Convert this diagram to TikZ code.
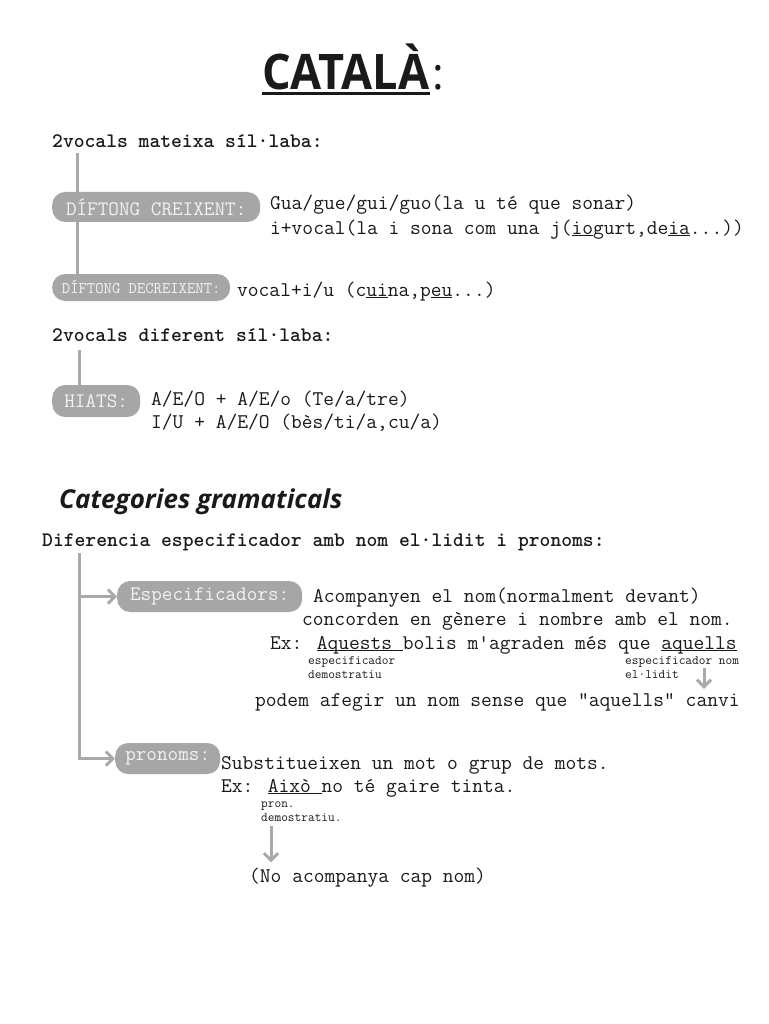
\documentclass[tikz,border=0pt]{standalone}
\usepackage{fontspec}
\newfontfamily\ttbold{lmmonolt10-bold.otf}
\newfontfamily\titlefont{Open Sans}[FakeStretch=0.92]
\newfontfamily\catfont{Open Sans}
\usetikzlibrary{arrows.meta}
\definecolor{ink}{HTML}{1A1A1A}
\definecolor{pillgray}{HTML}{A6A6A6}
\definecolor{pilltext}{HTML}{F2F2F2}
\definecolor{linegray}{HTML}{A9A9A9}
\newcommand\ulword[1]{\underline{\smash{#1}}}

\begin{document}
\begin{tikzpicture}[x=1pt,y=-1pt,
    txt/.style={anchor=base west,inner sep=0pt,text=ink,font=\ttfamily\fontsize{20.9}{24}\selectfont},
    head/.style={txt,font=\ttbold\fontsize{20.6}{24}\selectfont},
    small/.style={txt,font=\ttfamily\fontsize{13}{15}\selectfont},
    pill/.style={anchor=west,fill=pillgray,text=pilltext,rounded corners=13pt,inner sep=0pt,font=\ttfamily\fontsize{20.6}{24}\selectfont},
    trunk/.style={draw=linegray,line width=3pt},
    arrow/.style={trunk,-{Straight Barb[length=7pt,width=14pt]}}]

    \fill[white] (0,0) rectangle (768,1024);

    % Title
    \node[anchor=base west,inner sep=0pt,text=ink,font=\titlefont\bfseries\fontsize{49}{55}\selectfont] (title) at (262,90) {CATALÀ};
    \draw[ink,line width=3.5pt] ([yshift=-3pt]title.south west) -- ([yshift=-3pt]title.south east);
    \node[anchor=base west,inner sep=0pt,text=ink,font=\catfont\fontsize{44}{50}\selectfont] (colon) at ([xshift=3pt]title.base east) {:};

    % Step 1: same syllable
    \node[head] (h1) at (52,148) {2vocals mateixa síl·laba:};
    \node[pill,minimum width=208,minimum height=30] (p1) at (52,207) {DÍFTONG CREIXENT:};
    \node[txt] (gua) at (270,210) {Gua/gue/gui/guo(la u té que sonar)};
    \node[txt] (ivoc) at (270,234) {i+vocal(la i sona com una j(\ulword{io}gurt,de\ulword{ia}...))};
    \node[pill,minimum width=178,minimum height=27,font=\ttfamily\fontsize{16.2}{19}\selectfont] (p2) at (52,287.5) {DÍFTONG DECREIXENT:};
    \node[txt] (vocu) at (237,296) {vocal+i/u (c\ulword{ui}na,p\ulword{eu}...)};

    \coordinate (t1) at ([xshift=25pt,yshift=-5pt]h1.base west);
    \draw[trunk] (t1) -- (t1 |- p1.north);
    \draw[trunk] (t1 |- p1.south) -- (t1 |- p2.north);

    % Step 2: different syllable
    \node[head] (h2) at (52,341) {2vocals diferent síl·laba:};
    \node[pill,minimum width=88,minimum height=32] (p3) at (52,401) {HIATS:};
    \node[txt] (aeo) at (151,405) {A/E/O + A/E/o (Te/a/tre)};
    \node[txt] (iu) at (151,428) {I/U + A/E/O (bès/ti/a,cu/a)};

    \coordinate (t2) at ([xshift=27pt,yshift=-9pt]h2.base west);
    \draw[trunk] (t2) -- (t2 |- p3.north);

    % Step 3: grammatical categories
    \node[anchor=base west,inner sep=0pt,text=ink,font=\catfont\bfseries\itshape\fontsize{26}{30}\selectfont] (cat) at (59,508) {Categories gramaticals};
    \node[head] (dif) at (42,546) {Diferencia especificador amb nom el·lidit i pronoms:};

    \node[pill,minimum width=185,minimum height=31] (esp) at (117,596.5) {Especificadors:};
    \node[txt] (acom) at (313,602) {Acompanyen el nom(normalment devant)};
    \node[txt] (conc) at (302,625) {concorden en gènere i nombre amb el nom.};
    \node[txt] (ex1) at (270,649) {Ex: \ulword{Aquests\ }bolis m'agraden més que \ulword{aquells}};
    \node[small] (espd) at (308,664) {especificador};
    \node[small] (demo) at (308,678) {demostratiu};
    \node[small] (espn) at (625,664) {especificador nom};
    \node[small] (elid) at (625,678) {el·lidit};
    \node[txt] (podem) at (255,706) {podem afegir un nom sense que "aquells" canvi};

    \node[pill,minimum width=105,minimum height=31] (pro) at (115,758.5) {pronoms:};
    \node[txt] (subs) at (221,769) {Substitueixen un mot o grup de mots.};
    \node[txt] (ex2) at (221,792) {Ex: \ulword{Això\ }no té gaire tinta.};
    \node[small] (pron) at (261,807) {pron.};
    \node[small] (demo2) at (261,821) {demostratiu.};
    \node[txt] (noac) at (249,882) {(No acompanya cap nom)};

    % Step 4: connectors
    \coordinate (t3) at ([xshift=37pt,yshift=-7pt]dif.base west);
    \draw[arrow] (t3) |- (esp.west);
    \draw[arrow] (t3) |- (pro.west);

    \coordinate (a1) at (704,0);
    \draw[arrow] ([yshift=-1pt]a1 |- espn.south) -- ([yshift=4pt]a1 |- podem.north);
    \coordinate (a2) at (271,0);
    \draw[arrow] ([yshift=-5pt]a2 |- demo2.south) -- ([yshift=5pt]a2 |- noac.north);

\end{tikzpicture}
\end{document}
